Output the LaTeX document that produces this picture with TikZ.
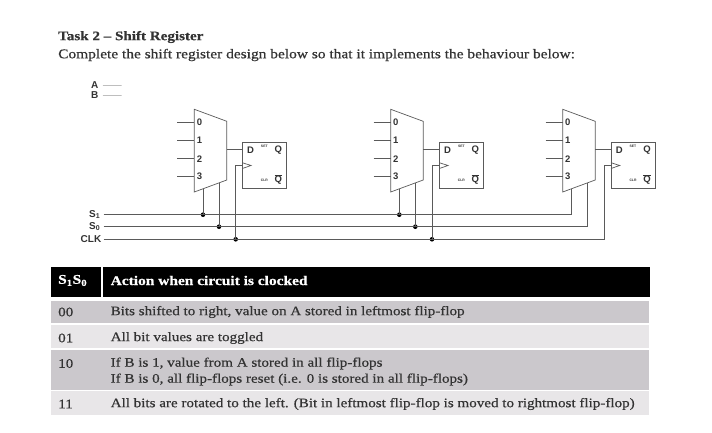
\documentclass[tikz,border=0pt]{standalone}
\usepackage{fontspec}
\setmainfont[FakeStretch=1.16,RawFeature={embolden=0.6}]{Liberation Serif}
\newfontfamily\lab{Liberation Sans}
\definecolor{wire}{HTML}{5A5A5A}
\definecolor{rowdark}{HTML}{CBC8CC}
\definecolor{rowlight}{HTML}{E8E6E8}
\definecolor{txt}{HTML}{333333}
\tikzset{
 wireline/.style={draw=wire,line width=0.7pt},
 ffbox/.style={draw=wire,line width=0.7pt,minimum width=44pt,minimum height=45.5pt,inner sep=0pt},
 pinlabel/.style={font=\lab\bfseries\fontsize{9.5}{10}\selectfont,text=black!80,inner sep=0pt},
 tinylabel/.style={font=\lab\bfseries\fontsize{3.4}{3.5}\selectfont,text=black!80,inner sep=0pt},
 siglabel/.style={font=\lab\bfseries\fontsize{10}{10}\selectfont,text=black!80,inner sep=0pt},
 dotjoin/.style={circle,fill=black,inner sep=0pt,minimum size=4.6pt},
 rowtext/.style={font=\fontsize{13}{14}\selectfont,text=txt,anchor=west,inner sep=0pt},
 headtext/.style={font=\bfseries\fontsize{13.3}{15}\selectfont,text=white,anchor=west,inner sep=0pt},
 band/.style={draw=none,inner sep=0pt}
}
\begin{document}
\begin{tikzpicture}[x=1pt,y=-1pt]
\useasboundingbox (0,0) rectangle (712,433);
\fill[white] (0,0) rectangle (712,433);
% title
\node[anchor=west,inner sep=0pt,font=\bfseries\fontsize{13}{15}\selectfont,text=txt] (title) at (58,37) {Task 2 – Shift Register};
\node[anchor=west,inner sep=0pt,font=\fontsize{13.3}{15}\selectfont,text=txt] (sub) at (58,55) {Complete the shift register design below so that it implements the behaviour below:};
% A, B
\node[siglabel,anchor=east] (A) at (98.5,85.5) {A};
\node[siglabel,anchor=east] (B) at (98.5,95.5) {B};
\coordinate (Aend) at (121.7,85.3);
\coordinate (Bend) at (121.7,95.3);
\draw[wire,line width=0.5pt,opacity=.6] (A.east)++(4.5,0) -- (Aend);
\draw[wire,line width=0.5pt,opacity=.6] (B.east)++(4.5,0) -- (Bend);
% signals
\node[siglabel,anchor=east] (S1) at (100.5,214.7) {S\textsubscript{1}};
\node[siglabel,anchor=east] (S0) at (100.5,226.7) {S\textsubscript{0}};
\node[siglabel,anchor=east] (CLK) at (101.5,239.3) {CLK};
% stages
\foreach \n/\mx/\fx in {1/194.3/242.3, 2/390.7/439.3, 3/562.7/611}{
  \coordinate (m\n a) at (\mx,109.3);
  \coordinate (m\n b) at (\mx+32.5,121.3);
  \coordinate (m\n c) at (\mx+32.5,180);
  \coordinate (m\n d) at (\mx,192);
  \draw[wireline] (m\n a) -- (m\n b) -- (m\n c) -- (m\n d) -- cycle;
  \foreach \i/\y in {0/122.7,1/140.3,2/158.7,3/176.7}{
    \node[pinlabel,anchor=west] (m\n p\i) at (\mx+2.3,\y) {\i};
    \coordinate (m\n s\i) at (\mx-17,\y);
    \draw[wireline] (m\n s\i) -- (\mx,\y);
  }
  \node[ffbox,anchor=north west] (f\n) at (\fx,142) {};
  \node[pinlabel] (f\n D) at (\fx+8.3,150) {D};
  \node[pinlabel] (f\n Q) at (\fx+36,150) {Q};
  \node[pinlabel] (f\n N) at (\fx+36,179.5) {$\overline{\mbox{Q}}$};
  \node[tinylabel] (f\n S) at (\fx+22,146) {SET};
  \node[tinylabel] (f\n R) at (\fx+22,180.5) {CLR};
  \coordinate (f\n k) at (\fx,165.5);
  \draw[wireline] (\fx,162.7) -- (\fx+8.7,165.5) -- (\fx,168.5);
  \coordinate (m\n o) at (\mx+32.5,149.8);
  \draw[wireline] (m\n o) -- (\fx,149.8);
}
% select and clock buses
\foreach \n/\a/\b/\c in {1/203/219/235.7, 2/399.3/415.3/432}{
  \node[dotjoin] (j\n a) at (\a,214.7) {};
  \node[dotjoin] (j\n b) at (\b,226.7) {};
  \node[dotjoin] (j\n c) at (\c,239.3) {};
  \draw[wireline] (j\n a.center) -- (\a,188.7);
  \draw[wireline] (j\n b.center) -- (\b,182.8);
  \draw[wireline] (j\n c.center) |- (f\n k);
}
\coordinate (t3a) at (571.7,214.7);
\coordinate (t3b) at (587.7,226.7);
\coordinate (t3c) at (604.7,239.3);
\draw[wireline] (S1.east)++(3,0) -- (t3a) -- (571.7,189);
\draw[wireline] (S0.east)++(3,0) -- (t3b) -- (587.7,183);
\draw[wireline] (CLK.east)++(2,0) -- (t3c) |- (f3k);
% table
\node[band,fill=black,anchor=north west,minimum width=50pt,minimum height=30pt] (h1) at (50.7,266.7) {};
\node[band,fill=black,anchor=north west,minimum width=547pt,minimum height=30pt] (h2) at (102.3,266.7) {};
\fill[rowdark] (50.7,300.7) rectangle (649.3,323.3);
\fill[rowlight] (50.7,325) rectangle (649.3,347.5);
\fill[rowdark] (50.7,350) rectangle (649.3,390);
\fill[rowlight] (50.7,390.7) rectangle (649.3,415);
\node[headtext] (hs) at (58,280.5) {S\textsubscript{1}S\textsubscript{0}};
\node[headtext] (ha) at (110.5,280.5) {Action when circuit is clocked};
\node[rowtext] (r0) at (58,312) {00};
\node[rowtext] (t0) at (110.5,312) {Bits shifted to right, value on A stored in leftmost flip-flop};
\node[rowtext] (r1) at (58,338) {01};
\node[rowtext] (t1) at (110.5,338) {All bit values are toggled};
\node[rowtext] (r2) at (58,363.5) {10};
\node[rowtext] (t2) at (110.5,363.5) {If B is 1, value from A stored in all flip-flops};
\node[rowtext] (t2b) at (110.5,379.5) {If B is 0, all flip-flops reset (i.e. 0 is stored in all flip-flops)};
\node[rowtext] (r3) at (58,404) {11};
\node[rowtext] (t3) at (110.5,404) {All bits are rotated to the left. (Bit in leftmost flip-flop is moved to rightmost flip-flop)};
\end{tikzpicture}
\end{document}
